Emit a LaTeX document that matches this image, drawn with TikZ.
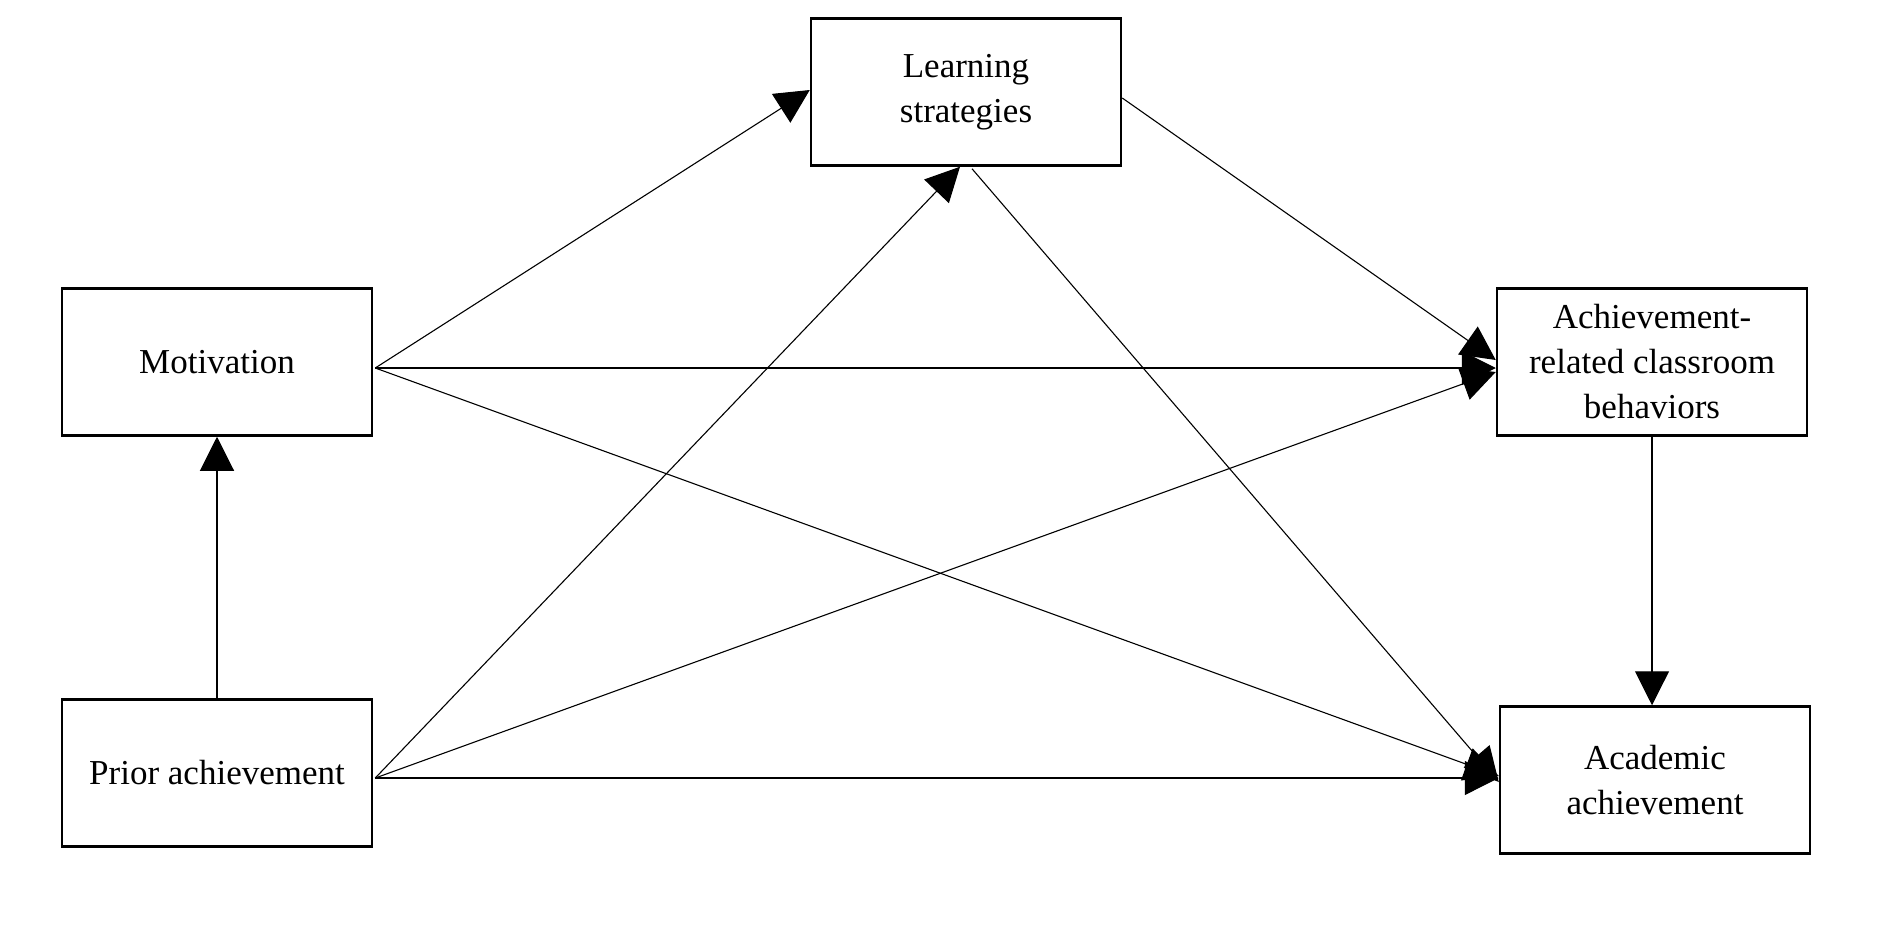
\documentclass[tikz,border=0pt]{standalone}
\usepackage{fontspec}
\setmainfont{Liberation Serif}
\usetikzlibrary{arrows.meta,calc}
\begin{document}
\begin{tikzpicture}[x=1pt,y=-1pt,
  box/.style={draw,line width=2.5pt,minimum width=310pt,minimum height=147pt,align=center,font=\fontsize{35}{45}\selectfont,inner sep=0pt},
  arr/.style={line width=1.1pt,-{Triangle[length=34pt,width=34pt]}}]
\useasboundingbox (0,0) rectangle (1881,946);
\fill[white] (0,0) rectangle (1881,946);
\node[box] (ls) at (966,92) {Learning\\strategies};
\node[box] (mot) at (217,362) {Motivation};
\node[box] (pa) at (217,773) {Prior achievement};
\node[box] (acb) at (1652,362) {Achievement-\\related classroom\\behaviors};
\node[box] (aa) at (1655,780) {Academic\\achievement};
\coordinate (m1) at ($(mot.east)+(2,6)$);
\coordinate (p1) at ($(pa.east)+(2,5)$);
\draw[arr] (m1) -- ($(ls.west)+(0,-2)$);
\draw[arr] (m1) -- ($(acb.west)+(0,6)$);
\draw[arr] (m1) -- ($(aa.west)+(0,-4)$);
\draw[arr] (pa.north -| mot.center) -- (mot.south);
\draw[arr] (p1) -- ($(ls.south)+(-6,0)$);
\draw[arr] (p1) -- ($(acb.west)+(0,10)$);
\draw[arr] (p1) -- ($(aa.west)+(0,-2)$);
\draw[arr] ($(ls.east)+(0,6)$) -- ($(acb.west)+(0,-2)$);
\draw[arr] ($(ls.south)+(6,2)$) -- ($(aa.west)+(0,2)$);
\draw[arr] (acb.south) -- (acb.south |- aa.north);
\end{tikzpicture}
\end{document}
